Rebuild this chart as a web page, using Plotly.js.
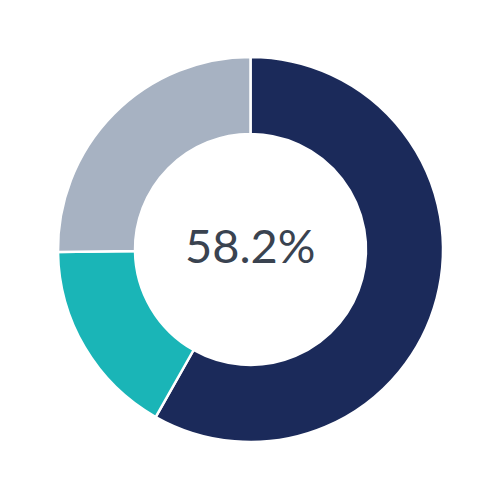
<!DOCTYPE html>
<html>
<head>
<meta charset="utf-8">
<script src="https://cdn.plot.ly/plotly-3.0.1.min.js"></script>
<style>html,body{margin:0;padding:0;background:#fff;}#chart{width:500px;height:500px;}</style>
</head>
<body>
<div id="chart"></div>
<script>
const labels = ["Navy", "Teal", "Gray"];
const values = [58.2, 16.6, 25.2];
const colors = ["#1b2a5a", "#1ab5b7", "#a7b2c2"];
const centerText = "58.2%";

Plotly.newPlot("chart", [{
  type: "pie",
  labels: labels,
  values: values,
  hole: 0.6,
  sort: false,
  direction: "clockwise",
  rotation: 0,
  textinfo: "none",
  hoverinfo: "none",
  marker: {colors: colors, line: {color: "#ffffff", width: 2.5}}
}], {
  width: 500, height: 500,
  margin: {l: 58, r: 57, t: 57, b: 58},
  showlegend: false,
  paper_bgcolor: "#ffffff",
  annotations: [{
    text: centerText, x: 0.5, y: 0.5, xref: "paper", yref: "paper",
    showarrow: false, xanchor: "center", yanchor: "middle", yshift: 5,
    font: {family: "Lato", size: 47, color: "#3a4350"}
  }]
}, {displayModeBar: false, staticPlot: true});
</script>
</body>
</html>
